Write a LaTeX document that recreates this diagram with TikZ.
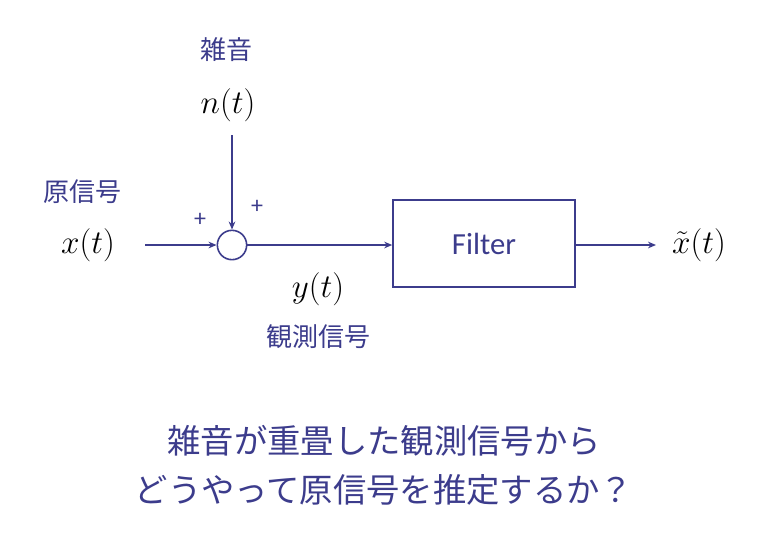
\documentclass[tikz,border=0pt]{standalone}
\usepackage{fontspec}
\usepackage{amsmath}
\usetikzlibrary{arrows.meta}
\newfontfamily\jpfont{Noto Sans CJK JP}
\newfontfamily\carfont{Carlito}
\definecolor{ink}{HTML}{3C3C8C}
\begin{document}
\begin{tikzpicture}[x=0.75pt,y=-0.75pt,
  jl/.style={text=ink,font=\jpfont\fontsize{19.5}{22}\selectfont,inner sep=0},
  ml/.style={text=black,font=\fontsize{30}{34}\selectfont,inner sep=0},
  wire/.style={draw=ink,line width=1.2pt,-{Stealth[length=6pt,width=5pt]}}]
\useasboundingbox (0,0) rectangle (767,533);
\node[jl] (noise) at (226,50) {雑音};
\node[ml] (n) at (228,105) {$n(t)$};
\node[draw=ink,line width=1.2pt,circle,minimum size=22pt,inner sep=0] (sum) at (232,245) {};
\coordinate (ntop) at (232,135);
\draw[wire] (ntop) -- (sum.north);
\node[text=ink,font=\carfont\fontsize{18}{20}\selectfont] (p1) at (257,207) {+};
\node[text=ink,font=\carfont\fontsize{18}{20}\selectfont] (p2) at (200,220) {+};
\node[jl] (orig) at (82,192) {原信号};
\node[ml] (x) at (88,245) {$x(t)$};
\coordinate (xs) at (145,245);
\draw[wire] (xs) -- (sum.west);
\node[draw=ink,line width=1.2pt,minimum width=136.5pt,minimum height=65pt,text=ink,font=\carfont\fontsize{23}{26}\selectfont] (f) at (484,243.5) {Filter};
\draw[wire] (sum.east) -- (sum.east -| f.west);
\coordinate (xo) at (656,245);
\draw[wire] (xo -| f.east) -- (xo);
\node[ml] (xt) at (699,245) {$\tilde{x}(t)$};
\node[ml] (y) at (318,289) {$y(t)$};
\node[jl] (obs) at (318,337) {観測信号};
\node[jl,font=\jpfont\fontsize{25}{28}\selectfont] (q1) at (384,441) {雑音が重畳した観測信号から};
\node[jl,font=\jpfont\fontsize{25}{28}\selectfont] (q2) at (384,490) {どうやって原信号を推定するか？};
\end{tikzpicture}
\end{document}
